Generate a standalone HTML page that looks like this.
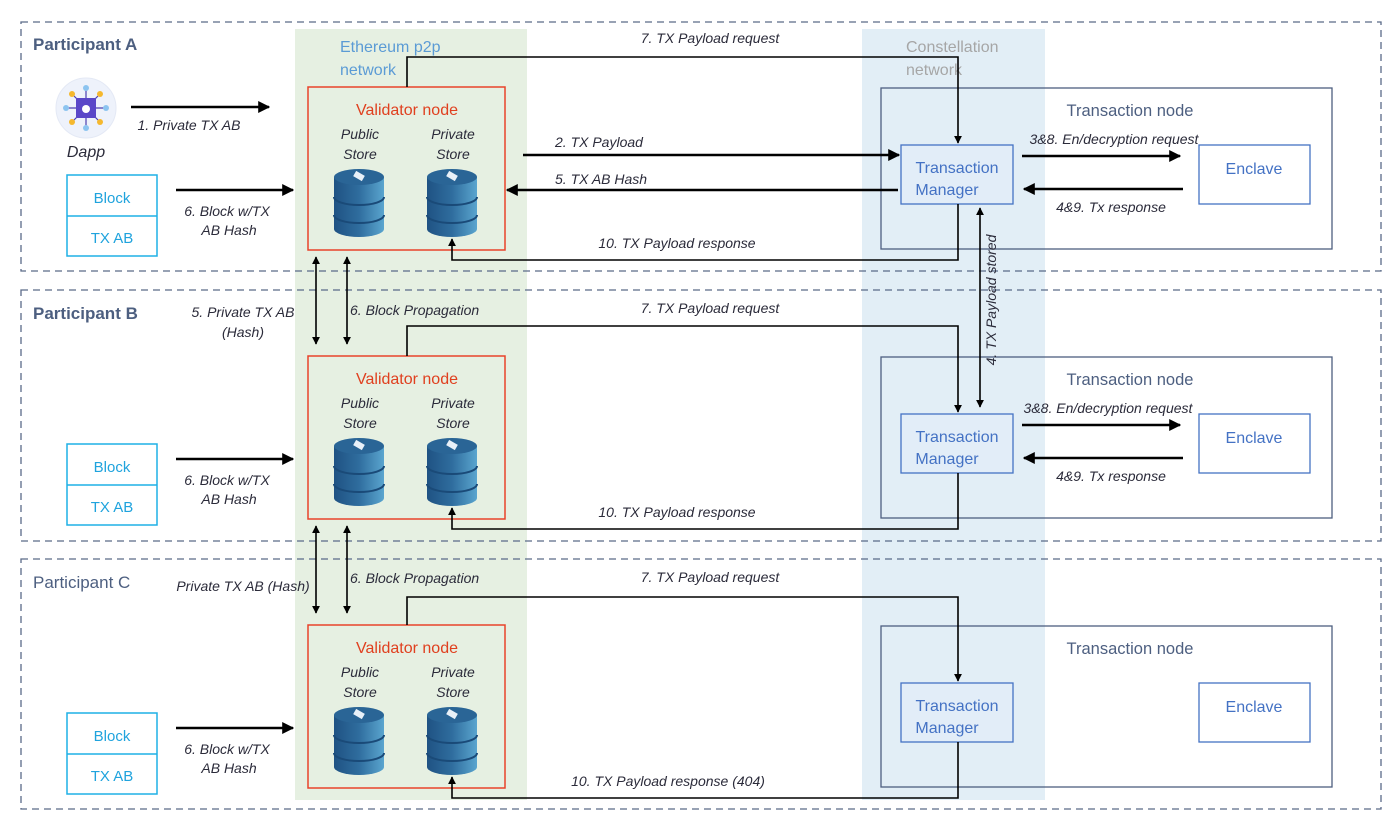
<!DOCTYPE html>
<html><head><meta charset="utf-8"><style>
html,body{margin:0;padding:0;background:#fff;}
svg{display:block;font-family:"Liberation Sans",sans-serif;}
.lbl{font-size:14px;font-style:italic;fill:#2b2b3a;}
.part{font-size:17px;font-weight:bold;fill:#4d5f80;}
.red{font-size:16px;fill:#e0401f;}
.blue{font-size:16px;fill:#4472c4;}
.cy{font-size:15px;fill:#1fa3dd;}
.tn{font-size:16.5px;fill:#4d5f80;}
.ln{stroke:#000;stroke-width:1.6;fill:none;}
.thk{stroke:#000;stroke-width:2.4;fill:none;}
</style></head><body>
<svg width="1400" height="830" viewBox="0 0 1400 830">
<defs>
<marker id="ah" viewBox="0 0 10 10" refX="9" refY="5" markerWidth="5" markerHeight="5" orient="auto-start-reverse"><path d="M0,0 L10,5 L0,10 z" fill="#000"/></marker>
<linearGradient id="dbg" x1="0" x2="1"><stop offset="0" stop-color="#1f5283"/><stop offset="0.5" stop-color="#2f6d9e"/><stop offset="1" stop-color="#5aa5cf"/></linearGradient>
<g id="db">
<path d="M0,8 L0,60 A25,8 0 0 0 50,60 L50,8" fill="url(#dbg)"/>
<ellipse cx="25" cy="8" rx="25" ry="8" fill="#2a6596"/>
<path d="M0,28 A25,8 0 0 0 50,28" stroke="#1a4a78" stroke-width="2" fill="none"/>
<path d="M0,46 A25,8 0 0 0 50,46" stroke="#1a4a78" stroke-width="2" fill="none"/>
<rect x="20" y="4" width="10" height="6" fill="#e8f0f8" transform="rotate(30 25 7)"/>
</g>
</defs>
<rect x="295" y="29" width="232" height="771" fill="#e6f0e2"/>
<rect x="862" y="29" width="183" height="771" fill="#e2eef6"/>
<g fill="none" stroke="#5a6a88" stroke-width="1.3" stroke-dasharray="7,5">
<rect x="21" y="22" width="1360" height="249"/>
<rect x="21" y="290" width="1360" height="251"/>
<rect x="21" y="559" width="1360" height="250"/>
</g>
<text x="33" y="50" class="part">Participant A</text>
<text x="33" y="319" class="part">Participant B</text>
<text x="33" y="588" class="part" style="font-weight:normal">Participant C</text>
<text x="340" y="52" style="font-size:16px;fill:#5b9bd5">Ethereum p2p</text>
<text x="340" y="75" style="font-size:16px;fill:#5b9bd5">network</text>
<text x="906" y="52" style="font-size:16px;fill:#a6a6a6">Constellation</text>
<text x="906" y="75" style="font-size:16px;fill:#a6a6a6">network</text>

<circle cx="86" cy="108" r="30" fill="#eef2fb" stroke="#e4e9f5"/>
<g stroke="#4b3fb0" stroke-width="1.2">
<line x1="66" y1="108" x2="106" y2="108"/><line x1="86" y1="88" x2="86" y2="128"/>
<line x1="72" y1="94" x2="100" y2="122"/><line x1="100" y1="94" x2="72" y2="122"/>
</g>
<rect x="76" y="98" width="20" height="20" fill="#5a47c8"/>
<circle cx="86" cy="109" r="4" fill="#fff"/>
<g fill="#f5b82e"><circle cx="72" cy="94" r="3"/><circle cx="100" cy="94" r="3"/><circle cx="72" cy="122" r="3"/><circle cx="100" cy="122" r="3"/></g>
<g fill="#8cc4f0"><circle cx="66" cy="108" r="3"/><circle cx="106" cy="108" r="3"/><circle cx="86" cy="88" r="3"/><circle cx="86" cy="128" r="3"/></g>
<text x="86" y="157" text-anchor="middle" style="font-size:16px;font-style:italic;fill:#2b2b3a">Dapp</text>

<g>
<g>
<rect x="67" y="175" width="90" height="81" fill="#fff" stroke="#1fb0e6" stroke-width="1.5"/>
<line x1="67" y1="216" x2="157" y2="216" stroke="#1fb0e6" stroke-width="1.5"/>
<text x="112" y="203" text-anchor="middle" class="cy">Block</text>
<text x="112" y="243" text-anchor="middle" class="cy">TX AB</text>
<rect x="308" y="87" width="197" height="163" fill="none" stroke="#e8422a" stroke-width="1.5"/>
<text x="407" y="115" text-anchor="middle" class="red">Validator node</text>
<text x="360" y="139" text-anchor="middle" class="lbl">Public</text>
<text x="360" y="159" text-anchor="middle" class="lbl">Store</text>
<text x="453" y="139" text-anchor="middle" class="lbl">Private</text>
<text x="453" y="159" text-anchor="middle" class="lbl">Store</text>
<use href="#db" x="334" y="169"/><use href="#db" x="427" y="169"/>
<rect x="881" y="88" width="451" height="161" fill="none" stroke="#4d5f80" stroke-width="1.3"/>
<text x="1130" y="116" text-anchor="middle" class="tn">Transaction node</text>
<rect x="901" y="145" width="112" height="59" fill="#e2edf8" stroke="#4472c4" stroke-width="1.3"/>
<text x="957" y="173" text-anchor="middle" class="blue">Transaction</text>
<text x="947" y="195" text-anchor="middle" class="blue">Manager</text>
<rect x="1199" y="145" width="111" height="59" fill="#fff" stroke="#4472c4" stroke-width="1.3"/>
<text x="1254" y="174" text-anchor="middle" class="blue">Enclave</text>
<line x1="176" y1="190" x2="293" y2="190" class="thk" marker-end="url(#ah)"/>
<text x="227" y="216" text-anchor="middle" class="lbl">6. Block w/TX</text>
<text x="229" y="235" text-anchor="middle" class="lbl">AB Hash</text>
<polyline points="407,87 407,57 958,57 958,143" class="ln" marker-end="url(#ah)"/>
<text x="710" y="43" text-anchor="middle" class="lbl">7. TX Payload request</text>
<polyline points="958,204 958,260 452,260 452,239" class="ln" marker-end="url(#ah)"/>
<text x="677" y="248" text-anchor="middle" class="lbl">10. TX Payload response</text>
<line x1="1022" y1="156" x2="1180" y2="156" class="thk" marker-end="url(#ah)"/>
<text x="1114" y="144" text-anchor="middle" class="lbl">3&amp;8. En/decryption request</text>
<line x1="1183" y1="189" x2="1024" y2="189" class="thk" marker-end="url(#ah)"/>
<text x="1111" y="212" text-anchor="middle" class="lbl">4&amp;9. Tx response</text>
</g>
<g transform="translate(0,269)">
<rect x="67" y="175" width="90" height="81" fill="#fff" stroke="#1fb0e6" stroke-width="1.5"/>
<line x1="67" y1="216" x2="157" y2="216" stroke="#1fb0e6" stroke-width="1.5"/>
<text x="112" y="203" text-anchor="middle" class="cy">Block</text>
<text x="112" y="243" text-anchor="middle" class="cy">TX AB</text>
<rect x="308" y="87" width="197" height="163" fill="none" stroke="#e8422a" stroke-width="1.5"/>
<text x="407" y="115" text-anchor="middle" class="red">Validator node</text>
<text x="360" y="139" text-anchor="middle" class="lbl">Public</text>
<text x="360" y="159" text-anchor="middle" class="lbl">Store</text>
<text x="453" y="139" text-anchor="middle" class="lbl">Private</text>
<text x="453" y="159" text-anchor="middle" class="lbl">Store</text>
<use href="#db" x="334" y="169"/><use href="#db" x="427" y="169"/>
<rect x="881" y="88" width="451" height="161" fill="none" stroke="#4d5f80" stroke-width="1.3"/>
<text x="1130" y="116" text-anchor="middle" class="tn">Transaction node</text>
<rect x="901" y="145" width="112" height="59" fill="#e2edf8" stroke="#4472c4" stroke-width="1.3"/>
<text x="957" y="173" text-anchor="middle" class="blue">Transaction</text>
<text x="947" y="195" text-anchor="middle" class="blue">Manager</text>
<rect x="1199" y="145" width="111" height="59" fill="#fff" stroke="#4472c4" stroke-width="1.3"/>
<text x="1254" y="174" text-anchor="middle" class="blue">Enclave</text>
<line x1="176" y1="190" x2="293" y2="190" class="thk" marker-end="url(#ah)"/>
<text x="227" y="216" text-anchor="middle" class="lbl">6. Block w/TX</text>
<text x="229" y="235" text-anchor="middle" class="lbl">AB Hash</text>
<polyline points="407,87 407,57 958,57 958,143" class="ln" marker-end="url(#ah)"/>
<text x="710" y="44" text-anchor="middle" class="lbl">7. TX Payload request</text>
<polyline points="958,204 958,260 452,260 452,239" class="ln" marker-end="url(#ah)"/>
<text x="677" y="248" text-anchor="middle" class="lbl">10. TX Payload response</text>
<line x1="1022" y1="156" x2="1180" y2="156" class="thk" marker-end="url(#ah)"/>
<text x="1108" y="144" text-anchor="middle" class="lbl">3&amp;8. En/decryption request</text>
<line x1="1183" y1="189" x2="1024" y2="189" class="thk" marker-end="url(#ah)"/>
<text x="1111" y="212" text-anchor="middle" class="lbl">4&amp;9. Tx response</text>
</g>
<g transform="translate(0,538)">
<rect x="67" y="175" width="90" height="81" fill="#fff" stroke="#1fb0e6" stroke-width="1.5"/>
<line x1="67" y1="216" x2="157" y2="216" stroke="#1fb0e6" stroke-width="1.5"/>
<text x="112" y="203" text-anchor="middle" class="cy">Block</text>
<text x="112" y="243" text-anchor="middle" class="cy">TX AB</text>
<rect x="308" y="87" width="197" height="163" fill="none" stroke="#e8422a" stroke-width="1.5"/>
<text x="407" y="115" text-anchor="middle" class="red">Validator node</text>
<text x="360" y="139" text-anchor="middle" class="lbl">Public</text>
<text x="360" y="159" text-anchor="middle" class="lbl">Store</text>
<text x="453" y="139" text-anchor="middle" class="lbl">Private</text>
<text x="453" y="159" text-anchor="middle" class="lbl">Store</text>
<use href="#db" x="334" y="169"/><use href="#db" x="427" y="169"/>
<rect x="881" y="88" width="451" height="161" fill="none" stroke="#4d5f80" stroke-width="1.3"/>
<text x="1130" y="116" text-anchor="middle" class="tn">Transaction node</text>
<rect x="901" y="145" width="112" height="59" fill="#e2edf8" stroke="#4472c4" stroke-width="1.3"/>
<text x="957" y="173" text-anchor="middle" class="blue">Transaction</text>
<text x="947" y="195" text-anchor="middle" class="blue">Manager</text>
<rect x="1199" y="145" width="111" height="59" fill="#fff" stroke="#4472c4" stroke-width="1.3"/>
<text x="1254" y="174" text-anchor="middle" class="blue">Enclave</text>
<line x1="176" y1="190" x2="293" y2="190" class="thk" marker-end="url(#ah)"/>
<text x="227" y="216" text-anchor="middle" class="lbl">6. Block w/TX</text>
<text x="229" y="235" text-anchor="middle" class="lbl">AB Hash</text>
<polyline points="407,87 407,59 958,59 958,143" class="ln" marker-end="url(#ah)"/>
<text x="710" y="44" text-anchor="middle" class="lbl">7. TX Payload request</text>
<polyline points="958,204 958,260 452,260 452,239" class="ln" marker-end="url(#ah)"/>
<text x="668" y="248" text-anchor="middle" class="lbl">10. TX Payload response (404)</text>
</g>
</g>

<line x1="131" y1="107" x2="269" y2="107" class="thk" marker-end="url(#ah)"/>
<text x="189" y="130" text-anchor="middle" class="lbl">1. Private TX AB</text>
<line x1="523" y1="155" x2="899" y2="155" class="thk" marker-end="url(#ah)"/>
<text x="555" y="147" class="lbl">2. TX Payload</text>
<line x1="898" y1="190" x2="507" y2="190" class="thk" marker-end="url(#ah)"/>
<text x="555" y="184" class="lbl">5. TX AB Hash</text>
<line x1="980" y1="208" x2="980" y2="407" class="ln" stroke-width="1.8" marker-start="url(#ah)" marker-end="url(#ah)"/>
<text transform="translate(996,300) rotate(-90)" text-anchor="middle" class="lbl">4. TX Payload stored</text>
<g class="ln" stroke-width="1.8">
<line x1="316" y1="257" x2="316" y2="344" marker-start="url(#ah)" marker-end="url(#ah)"/>
<line x1="347" y1="257" x2="347" y2="344" marker-start="url(#ah)" marker-end="url(#ah)"/>
<line x1="316" y1="526" x2="316" y2="613" marker-start="url(#ah)" marker-end="url(#ah)"/>
<line x1="347" y1="526" x2="347" y2="613" marker-start="url(#ah)" marker-end="url(#ah)"/>
</g>
<text x="243" y="317" text-anchor="middle" class="lbl">5. Private TX AB</text>
<text x="243" y="337" text-anchor="middle" class="lbl">(Hash)</text>
<text x="350" y="315" class="lbl">6. Block Propagation</text>
<text x="243" y="591" text-anchor="middle" class="lbl">Private TX AB (Hash)</text>
<text x="350" y="583" class="lbl">6. Block Propagation</text>
</svg>
</body></html>
